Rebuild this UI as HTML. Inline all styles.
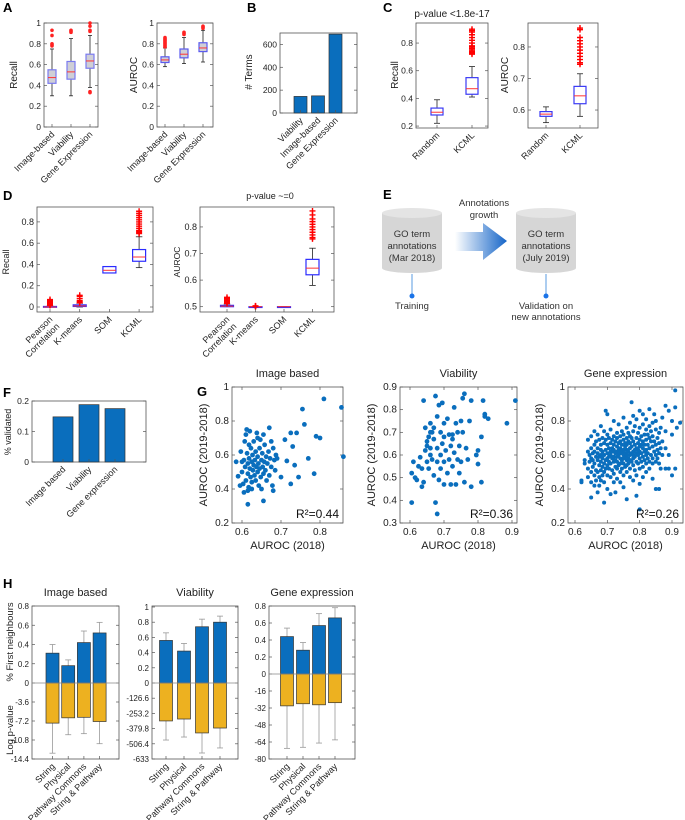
<!DOCTYPE html>
<html><head><meta charset="utf-8"><style>
html,body{margin:0;padding:0;background:#fff;}
svg{display:block;font-family:"Liberation Sans",Arial,sans-serif;}
</style></head><body>
<svg id="fig" width="685" height="820" xmlns="http://www.w3.org/2000/svg"></svg>
<script>
// ---------- DATA ----------
const aCats=['Image-based','Viability','Gene Expression'];
const aRecQ1=[0.42,0.46,0.565], aRecMed=[0.475,0.53,0.635], aRecQ3=[0.55,0.63,0.70], aRecLo=[0.30,0.30,0.38], aRecHi=[0.75,0.85,0.88];
const aRecOut=[[0.78,0.79,0.80,0.88,0.93],[0.91,0.92,0.93],[0.33,0.34,0.92,0.93,0.97,1.0]];
const aAucQ1=[0.62,0.665,0.725], aAucMed=[0.645,0.70,0.76], aAucQ3=[0.675,0.75,0.81], aAucLo=[0.58,0.61,0.625], aAucHi=[0.76,0.86,0.93];
const aAucOut=[[0.77,0.78,0.79,0.80,0.81,0.82,0.83,0.84,0.85,0.86],[0.89,0.90,0.91],[0.95,0.96,0.97]];
const bCats=['Viability','Image-based','Gene Expression'];
const bTerms=[145,150,690];
const bTicks=[0,200,400,600];
const cCats=['Random','KCML'];
const cRecQ1=[0.28,0.43], cRecMed=[0.30,0.47], cRecQ3=[0.33,0.55], cRecLo=[0.22,0.41], cRecHi=[0.39,0.63];
const cRecOut=[[],[0.72,0.73,0.74,0.75,0.76,0.77,0.78,0.80,0.82,0.84,0.86,0.88,0.89,0.90]];
const cAucQ1=[0.58,0.62], cAucMed=[0.587,0.645], cAucQ3=[0.595,0.675], cAucLo=[0.56,0.58], cAucHi=[0.61,0.715];
const cAucOut=[[],[0.745,0.75,0.76,0.77,0.78,0.79,0.80,0.81,0.82,0.83,0.855,0.86]];
const dCats=['Pearson\nCorrelation','K-means','SOM','KCML'];
const dRecQ1=[0,0.005,0.32,0.43], dRecMed=[0,0.01,0.345,0.47], dRecQ3=[0.005,0.02,0.38,0.54], dRecLo=[0,0,0.32,0.37], dRecHi=[0.01,0.035,0.38,0.66];
const dRecOut=[[0.015,0.02,0.025,0.03,0.035,0.04,0.045,0.05,0.06,0.07],[0.04,0.05,0.06,0.08,0.10,0.11],[],[0.69,0.70,0.71,0.72,0.74,0.76,0.78,0.80,0.82,0.84,0.86,0.88,0.90]];
const dAucQ1=[0.5,0.5,0.5,0.62], dAucMed=[0.502,0.5,0.5,0.645], dAucQ3=[0.505,0.5,0.5,0.678], dAucLo=[0.5,0.5,0.5,0.58], dAucHi=[0.51,0.5,0.5,0.72];
const dAucOut=[[0.512,0.515,0.518,0.52,0.523,0.526,0.53,0.535],[0.5,0.502,0.503],[],[0.755,0.76,0.77,0.78,0.79,0.80,0.81,0.82,0.83,0.845,0.86]];
const fCats=['Image based','Viability','Gene expression'];
const fValidated=[0.148,0.188,0.175];
const hCats=['String','Physical','Pathway Commons','String & Pathway'];
const hImgPct=[0.31,0.18,0.42,0.52], hImgPctErr=[0.09,0.06,0.12,0.11];
const hImgLogp=[-7.6,-6.6,-6.5,-7.3], hImgLogpErr=[5.7,3.2,3.1,4.2];
const hViaPct=[0.56,0.42,0.74,0.80], hViaPctErr=[0.10,0.10,0.10,0.08];
const hViaLogp=[-316,-300,-416,-375], hViaLogpErr=[159,150,167,166];
const hGenPct=[0.44,0.28,0.57,0.66], hGenPctErr=[0.10,0.09,0.14,0.12];
const hGenLogp=[-30,-28,-29,-27], hGenLogpErr=[40,41,36,35];
const g1Points=[[0.585,0.56],[0.59,0.475],[0.595,0.42],[0.597,0.62],[0.60,0.56],[0.60,0.50],[0.603,0.43],[0.605,0.57],[0.607,0.68],[0.608,0.53],[0.61,0.45],[0.61,0.72],[0.612,0.75],[0.613,0.61],[0.615,0.55],[0.615,0.49],[0.617,0.41],[0.618,0.58],[0.62,0.74],[0.62,0.52],[0.622,0.47],[0.623,0.64],[0.625,0.56],[0.625,0.44],[0.627,0.60],[0.628,0.51],[0.63,0.68],[0.63,0.54],[0.632,0.48],[0.633,0.57],[0.635,0.62],[0.635,0.45],[0.637,0.53],[0.638,0.73],[0.64,0.59],[0.64,0.50],[0.642,0.55],[0.643,0.42],[0.645,0.64],[0.645,0.52],[0.647,0.69],[0.648,0.47],[0.65,0.57],[0.65,0.40],[0.652,0.61],[0.653,0.53],[0.655,0.49],[0.657,0.56],[0.658,0.66],[0.66,0.51],[0.662,0.59],[0.663,0.45],[0.665,0.55],[0.668,0.62],[0.67,0.48],[0.672,0.58],[0.675,0.53],[0.68,0.64],[0.683,0.57],[0.687,0.60],[0.605,0.38],[0.625,0.40],[0.64,0.70],[0.618,0.66],[0.655,0.72],[0.81,0.93],[0.855,0.88],[0.86,0.59],[0.755,0.87],[0.76,0.78],[0.79,0.71],[0.80,0.70],[0.785,0.49],[0.77,0.58],[0.74,0.73],[0.745,0.47],[0.725,0.73],[0.73,0.65],[0.725,0.43],[0.71,0.69],[0.715,0.565],[0.735,0.54],[0.69,0.58],[0.70,0.47],[0.685,0.51],[0.68,0.39],[0.678,0.42],[0.67,0.76],[0.675,0.68],[0.655,0.33],[0.615,0.31],[0.615,0.39]];
const g2Points=[[0.605,0.39],[0.605,0.52],[0.61,0.57],[0.615,0.50],[0.62,0.49],[0.625,0.55],[0.63,0.59],[0.635,0.54],[0.635,0.46],[0.64,0.48],[0.64,0.84],[0.645,0.62],[0.645,0.72],[0.65,0.66],[0.65,0.57],[0.655,0.68],[0.655,0.54],[0.66,0.74],[0.66,0.63],[0.66,0.60],[0.665,0.70],[0.665,0.58],[0.67,0.51],[0.67,0.67],[0.67,0.72],[0.675,0.39],[0.675,0.86],[0.68,0.34],[0.68,0.57],[0.68,0.63],[0.68,0.77],[0.685,0.49],[0.685,0.82],[0.69,0.70],[0.69,0.54],[0.69,0.60],[0.695,0.83],[0.695,0.65],[0.70,0.47],[0.70,0.57],[0.70,0.68],[0.705,0.62],[0.71,0.76],[0.71,0.52],[0.715,0.69],[0.715,0.58],[0.72,0.64],[0.72,0.47],[0.725,0.67],[0.725,0.55],[0.73,0.61],[0.73,0.81],[0.735,0.74],[0.735,0.47],[0.74,0.70],[0.74,0.58],[0.745,0.64],[0.75,0.57],[0.75,0.75],[0.755,0.70],[0.755,0.85],[0.76,0.87],[0.76,0.48],[0.765,0.63],[0.77,0.58],[0.775,0.75],[0.78,0.46],[0.78,0.84],[0.795,0.60],[0.80,0.62],[0.80,0.56],[0.81,0.68],[0.81,0.48],[0.815,0.84],[0.82,0.78],[0.82,0.77],[0.83,0.76],[0.885,0.74],[0.91,0.84],[0.65,0.64],[0.66,0.70],[0.725,0.69],[0.70,0.74],[0.745,0.52]];
const g3Columns=[[0.62,[.45,.44]],[0.63,[.57,.55]],[0.64,[.62,.52,.69,.47]],[0.645,[.56,.60]],[0.65,[.35,.58,.50,.64,.44,.71]],[0.655,[.53,.61,.57]],[0.66,[.74,.66,.48,.55,.62,.42]],[0.665,[.59,.51,.68,.45]],[0.67,[.64,.57,.50,.72,.38,.61]],[0.675,[.54,.69,.47,.59,.42]],[0.68,[.63,.56,.77,.51,.66,.45,.60]],[0.685,[.58,.70,.53,.62,.48]],[0.69,[.32,.67,.55,.74,.60,.50,.44]],[0.695,[.63,.57,.86,.52,.69]],[0.70,[.84,.61,.54,.66,.48,.72,.58,.40]],[0.705,[.59,.64,.52,.70,.56]],[0.71,[.62,.55,.75,.47,.67,.60,.37]],[0.715,[.58,.64,.51,.69,.62]],[0.72,[.63,.56,.80,.49,.71,.59,.44,.66]],[0.725,[.61,.53,.68,.57,.38]],[0.73,[.65,.59,.73,.52,.62,.46,.70,.56]],[0.735,[.60,.67,.54,.63,.78]],[0.74,[.58,.64,.50,.71,.61,.55,.68,.44]],[0.745,[.62,.57,.66,.52,.74]],[0.75,[.60,.82,.55,.69,.63,.48,.58,.72,.41]],[0.755,[.65,.59,.53,.67,.61]],[0.76,[.57,.63,.76,.50,.70,.60,.54,.66,.34]],[0.765,[.62,.58,.73,.55,.68]],[0.77,[.64,.60,.52,.79,.67,.57,.47,.71]],[0.775,[.61,.91,.65,.56,.70]],[0.78,[.62,.58,.74,.54,.68,.45,.83,.60]],[0.785,[.66,.59,.63,.51,.77]],[0.79,[.61,.56,.70,.64,.48,.81,.36]],[0.795,[.60,.67,.55,.73,.63]],[0.80,[.65,.58,.76,.52,.69,.62,.43,.86,.28]],[0.805,[.61,.71,.56,.66]],[0.81,[.64,.59,.78,.53,.68,.47,.84]],[0.815,[.62,.57,.72,.66]],[0.82,[.60,.75,.55,.69,.81,.50,.63]],[0.825,[.66,.58,.72,.61]],[0.83,[.64,.77,.56,.70,.52,.87]],[0.835,[.60,.68,.74]],[0.84,[.65,.58,.79,.55,.71,.46]],[0.845,[.62,.84,.68]],[0.85,[.60,.75,.56,.66,.80,.40]],[0.855,[.63,.70,.58]],[0.86,[.67,.73,.55,.61,.40]],[0.865,[.76,.64,.52]],[0.87,[.60,.82,.68]],[0.88,[.89,.52,.74,.64]],[0.89,[.86,.60,.52]],[0.90,[.80,.48,.72]],[0.91,[.98,.52,.88]],[0.915,[.76]],[0.925,[.79]]];

// ---------- HELPERS ----------
const NS='http://www.w3.org/2000/svg';
const svg=document.getElementById('fig');
const BLUE='#0a6ebd', ORANGE='#EDB120';
function mk(tag,attrs,parent,name){
  const e=document.createElementNS(NS,tag);
  for(const k in attrs) e.setAttribute(k,attrs[k]);
  
  
  (parent||svg).appendChild(e); return e;
}
function grp(name){return mk('g',{},svg,name);}
function txt(s,x,y,o,parent,name){
  o=o||{};
  const a={x:x,y:y,'font-size':o.size||9,'text-anchor':o.anchor||'middle',fill:o.fill||'#222'};
  if(o.rot) a.transform='rotate('+o.rot+' '+x+' '+y+')';
  if(o.bold) a['font-weight']='bold';
  const t=mk('text',a,parent,name); t.textContent=s; return t;
}
function scale(d0,d1,r0,r1){return v=>r0+(v-d0)*(r1-r0)/(d1-d0);}
function frame(g,name,x0,x1,yT,yB){
  mk('rect',{x:x0,y:yT,width:x1-x0,height:yB-yT,fill:'#fff',stroke:'#555','stroke-width':0.8},g,name+'-frame');
}
function yTicks(g,name,x0,x1,ys,ticks,labels,size){
  ticks.forEach((t,i)=>{
    const y=ys(t);
    mk('line',{x1:x0,x2:x0+3,y1:y,y2:y,stroke:'#555','stroke-width':0.7},g,name+'-ytick');
    mk('line',{x1:x1-3,x2:x1,y1:y,y2:y,stroke:'#555','stroke-width':0.7},g,name+'-ytick-right');
    txt(labels[i],x0-3,y+3,{anchor:'end',size:size||8.5},g,name+'-ytick-label');
  });
}
function xTicks(g,name,xs,ticks,labels,yT,yB,size){
  ticks.forEach((t,i)=>{
    const x=xs(t);
    mk('line',{x1:x,x2:x,y1:yB,y2:yB-3,stroke:'#555','stroke-width':0.7},g,name+'-xtick');
    mk('line',{x1:x,x2:x,y1:yT,y2:yT+3,stroke:'#555','stroke-width':0.7},g,name+'-xtick-top');
    txt(labels[i],x,yB+12,{size:size||10},g,name+'-xtick-label');
  });
}
function catLabels(g,name,cats,xs,yB,size){
  cats.forEach((c,i)=>{
    const x=xs(i);
    mk('line',{x1:x,x2:x,y1:yB,y2:yB-3,stroke:'#555','stroke-width':0.7},g,name+'-xtick');
    const lines=c.split('\n');
    lines.forEach((s,j)=>{
      const lx=x+3+j*7, ly=yB+8+j*7;
      txt(s,lx,ly,{anchor:'end',rot:-45,size:size||9},g,name+'-category-label');
    });
  });
}
function marker(g,name,x,y,kind){
  if(kind==='dot') mk('circle',{cx:x,cy:y,r:1.8,fill:'#f22'},g,name);
  else mk('path',{d:'M'+(x-3)+' '+y+'h6M'+x+' '+(y-3)+'v6',stroke:'#f00','stroke-width':1.4,fill:'none'},g,name);
}
function boxes(g,name,xs,w,ys,q1,med,q3,lo,hi,outs,st){
  q1.forEach((_,i)=>{
    const x=xs(i);
    const wl=[[q3[i],hi[i]],[lo[i],q1[i]]];
    wl.forEach(p=>{
      mk('line',{x1:x,x2:x,y1:ys(p[0]),y2:ys(p[1]),stroke:'#222','stroke-width':0.8},g,name+'-whisker');
    });
    mk('line',{x1:x-w/4,x2:x+w/4,y1:ys(hi[i]),y2:ys(hi[i]),stroke:'#222','stroke-width':0.8},g,name+'-whisker-cap');
    mk('line',{x1:x-w/4,x2:x+w/4,y1:ys(lo[i]),y2:ys(lo[i]),stroke:'#222','stroke-width':0.8},g,name+'-whisker-cap');
    const yt=ys(q3[i]), yb=ys(q1[i]);
    mk('rect',{x:x-w/2,y:yt,width:w,height:Math.max(0.8,yb-yt),fill:st.fill,stroke:st.stroke,'stroke-width':1.2},g,name+'-box');
    mk('line',{x1:x-w/2,x2:x+w/2,y1:ys(med[i]),y2:ys(med[i]),stroke:'#f33','stroke-width':1},g,name+'-median');
    outs[i].forEach(v=>marker(g,name+'-outlier',x,ys(v),st.marker));
  });
}
function bars(g,name,xs,w,y0,ys,vals,fill){
  vals.forEach((v,i)=>{
    const a=ys(v), b=y0;
    mk('rect',{x:xs(i)-w/2,y:Math.min(a,b),width:w,height:Math.abs(b-a),fill:fill,stroke:'#333','stroke-width':0.7},g,name+'-bar');
  });
}
function errBars(g,name,xs,ys,vals,errs,dir){
  vals.forEach((v,i)=>{
    const y1=ys(v), y2=ys(v+dir*errs[i]), x=xs(i);
    mk('line',{x1:x,x2:x,y1:y1,y2:y2,stroke:'#999','stroke-width':0.8},g,name+'-errorbar');
    mk('line',{x1:x-3,x2:x+3,y1:y2,y2:y2,stroke:'#999','stroke-width':0.8},g,name+'-errorbar-cap');
  });
}
function rng(a,b,s){const r=[];for(let v=a;v<=b+1e-9;v+=s)r.push(Math.round(v*1000)/1000);return r;}
function fmt(v){return String(v);}

// ---------- PANEL LETTERS ----------
[['A',3,12],['B',247,12],['C',383,12],['D',3,200],['E',383,199],['F',3,397],['G',197,396],['H',3,588]].forEach(p=>{
  txt(p[0],p[1],p[2],{anchor:'start',size:13,bold:true,fill:'#000'},svg,'panel-label-'+p[0].toLowerCase());
});

// ---------- A ----------
(function(){
  const g=grp('panel-a-recall');
  const ys=scale(0,1,127,23), xs=i=>52+19*i;
  frame(g,'a-recall',44,98,23,127);
  const t=rng(0,1,0.2); yTicks(g,'a-recall',44,98,ys,t,t.map(fmt));
  boxes(g,'a-recall',xs,8,ys,aRecQ1,aRecMed,aRecQ3,aRecLo,aRecHi,aRecOut,{fill:'#cfcfd6',stroke:'#7b7bf0',marker:'dot'});
  catLabels(g,'a-recall',aCats,xs,127);
  txt('Recall',17,75,{rot:-90,size:10},g,'a-recall-y-axis-title');
  const g2=grp('panel-a-auroc');
  const xs2=i=>165+19*i;
  frame(g2,'a-auroc',157,213,23,127);
  yTicks(g2,'a-auroc',157,213,ys,t,t.map(fmt));
  boxes(g2,'a-auroc',xs2,8,ys,aAucQ1,aAucMed,aAucQ3,aAucLo,aAucHi,aAucOut,{fill:'#cfcfd6',stroke:'#5b5bf0',marker:'dot'});
  catLabels(g2,'a-auroc',aCats,xs2,127);
  txt('AUROC',137,75,{rot:-90,size:10},g2,'a-auroc-y-axis-title');
})();

// ---------- B ----------
(function(){
  const g=grp('panel-b');
  const ys=scale(0,700,113,33), xs=i=>300.5+17.5*i;
  frame(g,'b',280,357,33,113);
  yTicks(g,'b',280,357,ys,bTicks,bTicks.map(fmt));
  bars(g,'b-terms',xs,13,ys(0),ys,bTerms,BLUE);
  catLabels(g,'b',bCats,xs,113);
  txt('# Terms',252,72,{rot:-90,size:10},g,'b-y-axis-title');
})();

// ---------- C ----------
(function(){
  const g=grp('panel-c-recall');
  const ys=scale(0.186,0.945,128,23), xs=i=>437+35*i;
  frame(g,'c-recall',416,488,23,128);
  const t=[0.2,0.4,0.6,0.8]; yTicks(g,'c-recall',416,488,ys,t,t.map(fmt));
  boxes(g,'c-recall',xs,12,ys,cRecQ1,cRecMed,cRecQ3,cRecLo,cRecHi,cRecOut,{fill:'#fff',stroke:'#3a3af5',marker:'plus'});
  catLabels(g,'c-recall',cCats,xs,128);
  txt('Recall',398,75,{rot:-90,size:10},g,'c-recall-y-axis-title');
  txt('p-value <1.8e-17',452,17,{size:10},g,'c-title');
  const g2=grp('panel-c-auroc');
  const ys2=scale(0.543,0.876,128,23), xs2=i=>546+34*i;
  frame(g2,'c-auroc',528,598,23,128);
  const t2=[0.6,0.7,0.8]; yTicks(g2,'c-auroc',528,598,ys2,t2,t2.map(fmt));
  boxes(g2,'c-auroc',xs2,12,ys2,cAucQ1,cAucMed,cAucQ3,cAucLo,cAucHi,cAucOut,{fill:'#fff',stroke:'#3a3af5',marker:'plus'});
  catLabels(g2,'c-auroc',cCats,xs2,128);
  txt('AUROC',508,75,{rot:-90,size:10},g2,'c-auroc-y-axis-title');
})();

// ---------- D ----------
(function(){
  const g=grp('panel-d-recall');
  const ys=scale(-0.047,0.94,312,207), xs=i=>50+29.7*i;
  frame(g,'d-recall',37,153,207,312);
  const t=rng(0,0.8,0.2); yTicks(g,'d-recall',37,153,ys,t,t.map(fmt),9);
  boxes(g,'d-recall',xs,13,ys,dRecQ1,dRecMed,dRecQ3,dRecLo,dRecHi,dRecOut,{fill:'#fff',stroke:'#2b2bff',marker:'plus'});
  catLabels(g,'d-recall',dCats,xs,312);
  txt('Recall',9,262,{rot:-90,size:9},g,'d-recall-y-axis-title');
  const g2=grp('panel-d-auroc');
  const ys2=scale(0.48,0.875,312,207), xs2=i=>227+28.5*i;
  frame(g2,'d-auroc',200,334,207,312);
  const t2=[0.5,0.6,0.7,0.8]; yTicks(g2,'d-auroc',200,334,ys2,t2,t2.map(fmt),9);
  boxes(g2,'d-auroc',xs2,13,ys2,dAucQ1,dAucMed,dAucQ3,dAucLo,dAucHi,dAucOut,{fill:'#fff',stroke:'#2b2bff',marker:'plus'});
  catLabels(g2,'d-auroc',dCats,xs2,312);
  txt('AUROC',180,262,{rot:-90,size:8.5},g2,'d-auroc-y-axis-title');
  txt('p-value ~=0',270,199,{size:9},g2,'d-title');
})();

// ---------- E ----------
(function(){
  const g=grp('panel-e-diagram');
  const defs=mk('defs',{},g,'e-defs');
  const lg=mk('linearGradient',{id:'arrowGrad',x1:'0',x2:'1',y1:'0',y2:'0'},defs,'e-arrow-gradient');
  mk('stop',{offset:'0','stop-color':'#ffffff'},lg,'e-grad-stop');
  mk('stop',{offset:'1','stop-color':'#1565c8'},lg,'e-grad-stop');
  function cyl(cx,name,lines){
    const w=30;
    mk('path',{d:'M'+(cx-w)+' 213 V268 A'+w+' 5 0 0 0 '+(cx+w)+' 268 V213 Z',fill:'#d6d6d6'},g,name+'-body');
    mk('ellipse',{cx:cx,cy:213,rx:w,ry:5,fill:'#e4e4e4'},g,name+'-top');
    lines.forEach((s,i)=>txt(s,cx,237+i*12,{size:9.5,fill:'#333'},g,name+'-text'));
  }
  cyl(412,'e-cylinder-2018',['GO term','annotations','(Mar 2018)']);
  cyl(546,'e-cylinder-2019',['GO term','annotations','(July 2019)']);
  mk('path',{d:'M455 232 H483 V223 L507 241 L483 260 V251 H455 Z',fill:'url(#arrowGrad)'},g,'e-growth-arrow');
  txt('Annotations',484,206,{size:9.5,fill:'#333'},g,'e-arrow-label');
  txt('growth',484,218,{size:9.5,fill:'#333'},g,'e-arrow-label');
  [[412,'Training',null],[546,'Validation on','new annotations']].forEach(p=>{
    mk('line',{x1:p[0],x2:p[0],y1:274,y2:296,stroke:'#5a9be0','stroke-width':1},g,'e-connector');
    mk('circle',{cx:p[0],cy:296,r:2.5,fill:'#1a73e8'},g,'e-connector-dot');
    txt(p[1],p[0],309,{size:9.5,fill:'#333'},g,'e-caption');
    if(p[2]) txt(p[2],p[0],320,{size:9.5,fill:'#333'},g,'e-caption');
  });
})();

// ---------- F ----------
(function(){
  const g=grp('panel-f');
  const ys=scale(0,0.2,462,401), xs=i=>63+26*i;
  frame(g,'f',32,146,401,462);
  const t=[0,0.1,0.2]; yTicks(g,'f',32,146,ys,t,t.map(fmt));
  bars(g,'f-validated',xs,20,ys(0),ys,fValidated,BLUE);
  catLabels(g,'f',fCats,xs,462);
  txt('% validated',11,432,{rot:-90,size:9},g,'f-y-axis-title');
})();

// ---------- G ----------
function scatterPanel(name,x0,x1,xs,ys,xt,yt,title,r2,pts,r){
  const g=grp(name);
  frame(g,name,x0,x1,387,523);
  yTicks(g,name,x0,x1,ys,yt,yt.map(fmt),10);
  xTicks(g,name,xs,xt,xt.map(fmt),387,523,10);
  pts.forEach(p=>{mk('circle',{cx:xs(p[0]),cy:ys(p[1]),r:r,fill:BLUE},g,name+'-point');});
  txt(title,(x0+x1)/2,377,{size:11},g,name+'-title');
  txt('AUROC (2018)',(x0+x1)/2,549,{size:11},g,name+'-x-axis-title');
  txt('AUROC (2019-2018)',x0-25,455,{size:11,rot:-90},g,name+'-y-axis-title');
  txt('R²='+r2,x1-4,518,{anchor:'end',size:12,fill:'#111'},g,name+'-r-squared');
}
const g3Points=[];
g3Columns.forEach(c=>c[1].forEach(y=>g3Points.push([c[0],y])));
scatterPanel('g-image-based',232,343,scale(0.6,0.8,242,320),scale(0.2,1,523,387),[0.6,0.7,0.8],[0.2,0.4,0.6,0.8,1],'Image based','0.44',g1Points,2.4);
scatterPanel('g-viability',400,517,scale(0.6,0.9,410,512),scale(0.3,0.9,523,387),[0.6,0.7,0.8,0.9],[0.3,0.4,0.5,0.6,0.7,0.8,0.9],'Viability','0.36',g2Points,2.4);
scatterPanel('g-gene-expression',568,683,scale(0.6,0.9,575,672),scale(0.2,1,523,387),[0.6,0.7,0.8,0.9],[0.2,0.4,0.6,0.8,1],'Gene expression','0.26',g3Points,2);

// ---------- H ----------
function hPanel(name,x0,x1,xs,ysTop,ysBot,topTicks,botTicks,pct,pctErr,lp,lpErr,title){
  const g=grp(name);
  frame(g,name,x0,x1,606,759);
  yTicks(g,name,x0,x1,ysTop,topTicks,topTicks.map(fmt),8);
  yTicks(g,name,x0,x1,ysBot,botTicks,botTicks.map(fmt),8);
  errBars(g,name+'-pct',xs,ysTop,pct,pctErr,1);
  errBars(g,name+'-logp',xs,ysBot,lp,lpErr,-1);
  bars(g,name+'-pct',xs,13,ysTop(0),ysTop,pct,BLUE);
  bars(g,name+'-logp',xs,13,ysBot(0),ysBot,lp,ORANGE);
  mk('line',{x1:x0,x2:x1,y1:ysTop(0),y2:ysTop(0),stroke:'#888','stroke-width':0.8},g,name+'-zero-line');
  catLabels(g,name,hCats,xs,759,9);
  txt(title,(x0+x1)/2,596,{size:11},g,name+'-title');
}
hPanel('h-image-based',32,119,i=>52.5+15.7*i,scale(0,0.8,683,606),scale(0,-14.4,683,759),[0,0.2,0.4,0.6,0.8],[-3.6,-7.2,-10.8,-14.4],hImgPct,hImgPctErr,hImgLogp,hImgLogpErr,'Image based');
hPanel('h-viability',152,238,i=>166+18*i,scale(0,1,683,607),scale(0,-633,683,759),[0,0.2,0.4,0.6,0.8,1],[-126.6,-253.2,-379.8,-506.4,-633],hViaPct,hViaPctErr,hViaLogp,hViaLogpErr,'Viability');
hPanel('h-gene-expression',269,355,i=>287+16*i,scale(0,0.8,674,606),scale(0,-80,674,759),[0,0.2,0.4,0.6,0.8],[-16,-32,-48,-64,-80],hGenPct,hGenPctErr,hGenLogp,hGenLogpErr,'Gene expression');
txt('% First neighbours',13,642,{rot:-90,size:9.5},svg,'h-y-axis-title-top');
txt('Log p-value',13,730,{rot:-90,size:9.5},svg,'h-y-axis-title-bottom');
</script>
</body></html>
